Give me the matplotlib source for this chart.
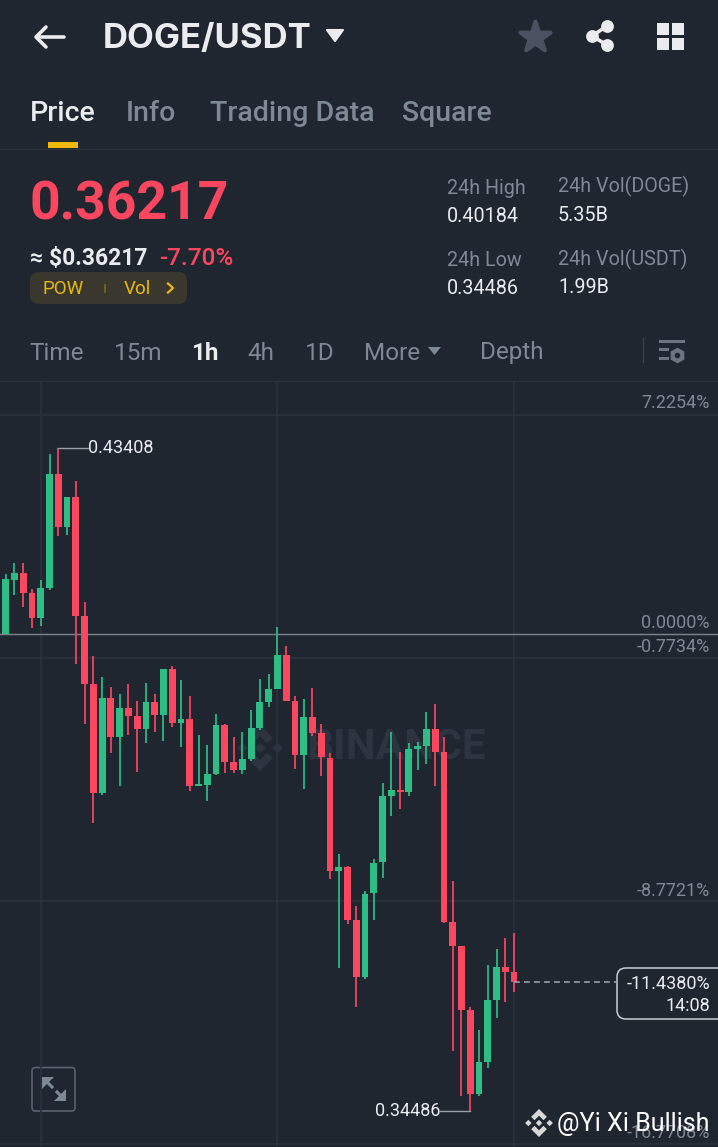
import matplotlib
matplotlib.use("Agg")
import matplotlib.pyplot as plt
from matplotlib.patches import FancyBboxPatch, Polygon, Rectangle
import numpy as np

# Candle values, oldest first (first candle is clipped by the left edge)
opens = [0.41104, 0.40902, 0.41633, 0.41723, 0.41454, 0.41113, 0.41521, 0.43055, 0.42342, 0.42746,
         0.41144, 0.40224, 0.38765, 0.40040, 0.39511, 0.39906, 0.39798, 0.39623, 0.39982, 0.39811,
         0.40435, 0.39708, 0.39753, 0.38851, 0.38873, 0.39017, 0.39673, 0.39179, 0.39067, 0.39223,
         0.39636, 0.39990, 0.40161, 0.40619, 0.40004, 0.39273, 0.39784, 0.39565, 0.39237, 0.37715,
         0.37769, 0.37052, 0.36285, 0.37411, 0.37829, 0.38721, 0.38802, 0.38775, 0.39354, 0.39398,
         0.39627, 0.39313, 0.37025, 0.36698, 0.35836, 0.34710, 0.35136, 0.35979, 0.36423, 0.36352]
closes = [0.40902, 0.41638, 0.41723, 0.41454, 0.41113, 0.41521, 0.43055, 0.42342, 0.42746, 0.41144,
          0.40224, 0.38765, 0.40040, 0.39511, 0.39906, 0.39798, 0.39623, 0.39982, 0.39811, 0.40435,
          0.39708, 0.39753, 0.38851, 0.38883, 0.39017, 0.39673, 0.39179, 0.39067, 0.39223, 0.39636,
          0.39990, 0.40161, 0.40619, 0.40004, 0.39273, 0.39784, 0.39565, 0.39242, 0.37715, 0.37769,
          0.37052, 0.36289, 0.37406, 0.37823, 0.38717, 0.38802, 0.38775, 0.39350, 0.39394, 0.39627,
          0.39313, 0.37025, 0.36698, 0.35840, 0.34710, 0.35136, 0.35979, 0.36423, 0.36352, 0.36217]
highs = [0.41104, 0.41709, 0.41853, 0.41853, 0.41507, 0.41624, 0.43321, 0.43408, 0.42746, 0.42961,
         0.41336, 0.40606, 0.40323, 0.40184, 0.40090, 0.40233, 0.40000, 0.40238, 0.40090, 0.40435,
         0.40471, 0.40283, 0.40063, 0.39538, 0.39412, 0.39821, 0.39690, 0.39515, 0.39587, 0.39875,
         0.40296, 0.40367, 0.40996, 0.40740, 0.40063, 0.40023, 0.40179, 0.39694, 0.39296, 0.37940,
         0.37783, 0.37244, 0.37446, 0.37869, 0.38896, 0.39578, 0.39309, 0.39434, 0.39448, 0.39848,
         0.39963, 0.39511, 0.37573, 0.36698, 0.35877, 0.35571, 0.36442, 0.36657, 0.36810, 0.36877]
lows = [0.40902, 0.40902, 0.41423, 0.41269, 0.40986, 0.41013, 0.41498, 0.42225, 0.42234, 0.40494,
        0.39694, 0.38353, 0.38735, 0.39300, 0.38856, 0.39542, 0.39040, 0.39439, 0.39583, 0.39465,
        0.39650, 0.39385, 0.38784, 0.38851, 0.38650, 0.39008, 0.39031, 0.39031, 0.39017, 0.39196,
        0.39609, 0.39923, 0.40161, 0.39996, 0.39084, 0.38815, 0.39525, 0.38994, 0.37604, 0.36402,
        0.37002, 0.35885, 0.36262, 0.37052, 0.37621, 0.38456, 0.38546, 0.38717, 0.39071, 0.39148,
        0.38860, 0.37016, 0.35289, 0.34687, 0.34486, 0.34687, 0.35060, 0.35729, 0.35952, 0.36078]

base_price = 0.40895
grid_pcts = [7.2254, -0.7734, -8.7721, -16.7708]
grid_days = [5, 32, 59]
last_pct = -11.4380
last_time = "14:08"

tabs_top = ["Price", "Info", "Trading Data", "Square"]
tabs_top_x = [30, 126, 210, 402]
intervals = ["Time", "15m", "1h", "4h", "1D", "More", "Depth"]
intervals_x = [29, 114, 191, 247, 305, 364, 480]

BG = "#1F2630"
RED = "#FB4660"
GREEN = "#2EBD85"
WHITE = "#EAECEF"
GREY = "#7F8895"
GRID = "#2B323D"
FONT = "Roboto"

W, H = 718, 1147
fig = plt.figure(figsize=(W / 100, H / 100), dpi=100, facecolor=BG)

# pixel canvas for the app chrome, candles go on a transparent axes above it
ui = fig.add_axes([0, 0, 1, 1], zorder=0)
ui.set_xlim(0, W)
ui.set_ylim(H, 0)
ui.axis("off")


def label(x, y, s, size=14, color=WHITE, weight="normal", ha="left", family=FONT):
    ui.text(x, y + 2.5, s, fontsize=size, color=color, fontweight=weight, ha=ha, va="center", family=family)


def logo(axes, cx, cy, r, color, zorder=2):
    # four-way diamond mark
    for dx, dy in [(0, 0), (-0.76, 0), (0.76, 0)]:
        axes.add_patch(Polygon([[cx + (dx - 0.23) * r, cy + dy * r], [cx + dx * r, cy - 0.23 * r],
                                [cx + (dx + 0.23) * r, cy + dy * r], [cx + dx * r, cy + 0.23 * r]],
                               closed=True, color=color, lw=0, zorder=zorder))
    for sign in [-1, 1]:
        pts = [(0, 1), (0.56, 0.44), (0.32, 0.2), (0, 0.52), (-0.32, 0.2), (-0.56, 0.44)]
        axes.add_patch(Polygon([[cx + px * r, cy + sign * py * r] for px, py in pts],
                               closed=True, color=color, lw=0, zorder=zorder))


# header
ui.plot([37, 64], [37, 37], color=WHITE, lw=2.6, solid_capstyle="round")
ui.plot([46, 36, 46], [27, 37, 47], color=WHITE, lw=2.6, solid_capstyle="round", solid_joinstyle="round")
label(103, 36.5, "DOGE/USDT", 25, WHITE, "bold", family="Inter")
ui.add_patch(Polygon([[327, 30], [343, 30], [335, 41]], closed=True, fc=WHITE, ec=WHITE, joinstyle="round", lw=1.5))
ui.scatter([535], [37], marker="*", s=520, color="#4A5160", edgecolors="#4A5160", linewidths=3)
ui.plot([607, 592, 607], [26, 36, 45], color=WHITE, lw=2.6)
ui.scatter([607, 592, 607], [26, 36, 45], s=85, color=WHITE, linewidths=0)
for sq_x in [657, 672]:
    for sq_y in [23, 38]:
        ui.add_patch(Rectangle((sq_x, sq_y), 12, 12, color=WHITE, lw=0))

# tabs
for name, x in zip(tabs_top, tabs_top_x):
    on = name == "Price"
    label(x, 111, name, 20.5, WHITE if on else GREY, "medium")
ui.add_patch(Rectangle((48, 142), 30, 6, color="#F0B90B", lw=0))
ui.plot([0, W], [149, 149], color=GRID, lw=1)

# price block
label(30, 203, "0.36217", 38.5, RED, "bold")
label(30, 256, "≈ $0.36217", 16.5, WHITE, "bold")
label(159, 256, "-7.70%", 17.6, RED, "medium")
ui.add_patch(FancyBboxPatch((30, 272), 157, 32, boxstyle="round,pad=0,rounding_size=9", lw=0, color="#3A382E"))
label(43, 286, "POW", 13.5, "#E8B90F")
ui.plot([105, 105], [285, 292], color="#7A6A20", lw=1.2)
label(124, 286, "Vol", 13.5, "#E8B90F")
ui.plot([168, 173, 168], [283.5, 288, 292.5], color="#E8B90F", lw=1.6)

# 24h stats
label(447, 186, "24h High", 14.2, GREY)
label(447, 214, "0.40184", 14.2, WHITE)
label(558, 184, "24h Vol(DOGE)", 14.2, GREY)
label(558, 213, "5.35B", 14.2, WHITE)
label(447, 258, "24h Low", 14.2, GREY)
label(447, 286, "0.34486", 14.2, WHITE)
label(558, 257, "24h Vol(USDT)", 14.2, GREY)
label(558, 285, "1.99B", 14.2, WHITE)

# interval bar
for name, x in zip(intervals, intervals_x):
    on = name == "1h"
    label(x, 350.5, name, 17.5, WHITE if on else GREY, "bold" if on else "normal")
ui.add_patch(Polygon([[428, 347], [441, 347], [434.5, 355]], closed=True, color=GREY, lw=0))
ui.plot([643, 643], [338, 362], color="#3A424F", lw=1)
ui.plot([660, 683], [340.5, 340.5], color="#6B7380", lw=2.2)
ui.plot([660, 667], [349, 349], color="#6B7380", lw=2.2)
ui.plot([660, 667], [358, 358], color="#6B7380", lw=2.2)
ui.scatter([677], [354.5], marker="h", s=130, color="#6B7380", linewidths=0)
ui.scatter([677], [354.5], s=16, color=BG, linewidths=0, zorder=3)
ui.plot([0, W], [381, 381], color=GRID, lw=1)

# faint exchange watermark behind the candles
logo(ui, 260, 748, 23, "#2D343F")
label(306, 745, "BINANCE", 30.5, "#2D343F", "bold")

# axis percent labels
label(710, 401, "7.2254%", 13, GREY, ha="right")
label(710, 621, "0.0000%", 13, GREY, ha="right")
label(710, 645, "-0.7734%", 13, GREY, ha="right")
label(710, 888, "-8.7721%", 13, GREY, ha="right")
label(710, 1131, "-16.7708%", 13, GREY, ha="right")

# expand button
ui.add_patch(FancyBboxPatch((32, 1067.5), 43, 43.5, boxstyle="round,pad=0,rounding_size=3.5", fc="none", ec="#5B626E", lw=1.2))
ui.plot([46, 52], [1081, 1087], color=GREY, lw=2.2)
ui.plot([57, 63], [1092, 1098], color=GREY, lw=2.2)
ui.add_patch(Polygon([[42, 1077], [54, 1077], [42, 1089]], closed=True, color=GREY, lw=0))
ui.add_patch(Polygon([[66, 1101], [54, 1101], [66, 1089]], closed=True, color=GREY, lw=0))

# candles
ax = fig.add_axes([0, 0, 1, (H - 382) / H], zorder=1)
ax.patch.set_alpha(0)
ax.axis("off")
ax.set_xlim(0.35, 82.27)
ax.set_ylim(0.33996, 0.44294)

idx = np.arange(len(opens))
o = np.array(opens)
c = np.array(closes)
colors = np.where(c > o, GREEN, RED)

for pct in grid_pcts:
    ax.axhline(base_price * (1 + pct / 100), color=GRID, lw=1.2, zorder=1)
for d in grid_days:
    ax.axvline(d, color=GRID, lw=1.2, zorder=1)
ax.axhline(base_price, color="#7D838D", lw=1, zorder=2)

ax.vlines(idx, lows, highs, colors=colors, lw=1.25, zorder=3)
ax.bar(idx, np.abs(c - o), bottom=np.minimum(o, c), width=0.78, color=colors, lw=0, zorder=4)

# high / low callouts
hi = int(np.argmax(highs))
lo = int(np.argmin(lows))
ax.plot([hi, hi + 3.4], [highs[hi], highs[hi]], color="#9AA0A8", lw=1, zorder=5)
ax.text(hi + 3.4, highs[hi], "%.5f" % highs[hi], color=WHITE, fontsize=13, va="center", ha="left", family=FONT)
ax.plot([lo - 3.4, lo], [lows[lo], lows[lo]], color="#9AA0A8", lw=1, zorder=5)
ax.text(lo - 3.4, lows[lo], "%.5f" % lows[lo], color=WHITE, fontsize=13, va="center", ha="right", family=FONT)

# last price tag
last_price = base_price * (1 + last_pct / 100)
ax.plot([len(opens) - 1, len(opens) + 10.7], [last_price, last_price], color="#9AA0A8", lw=1.2, ls=(0, (3.5, 2.5)), zorder=5)
ui.add_patch(FancyBboxPatch((617, 968), 110, 51, boxstyle="round,pad=0,rounding_size=9", fc=BG, ec="#C9CCD1", lw=1.1, zorder=6))
ui.text(710, 984, "%.4f%%" % last_pct, color=WHITE, fontsize=13, va="center", ha="right", family=FONT, zorder=7)
ui.text(710, 1006, last_time, color=WHITE, fontsize=13, va="center", ha="right", family=FONT, zorder=7)

# repost credit on top of everything
cred = fig.add_axes([0, 0, 1, 1], zorder=3)
cred.patch.set_alpha(0)
cred.axis("off")
cred.set_xlim(0, W)
cred.set_ylim(H, 0)
logo(cred, 539, 1123, 14, "#D8D8D8")
cred.text(557, 1124, "@Yi Xi Bullish", color="white", fontsize=18.1, va="center", ha="left", family=FONT)

fig.savefig("out.png", dpi=100, facecolor=BG)
plt.close("all")
